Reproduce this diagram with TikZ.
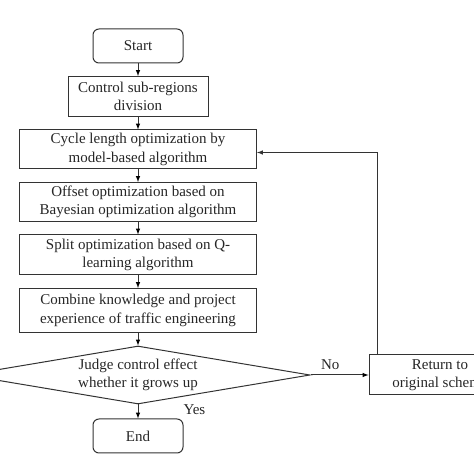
\documentclass[tikz,border=0pt]{standalone}
\usepackage{fontspec}
\setmainfont{Liberation Serif}
\usetikzlibrary{arrows,positioning,shapes.geometric}

\begin{document}
\begin{tikzpicture}
[x=1pt, y=1pt, node distance=12.5pt, >=latex, font=\fontsize{15}{18.5}\selectfont, text=black!85,
% STYLES
boxline/.style={draw=black!80, line width=1pt},
% The terminal style is used for start and end
terminal/.style={rectangle, rounded corners=6pt, boxline, minimum width=90pt, minimum height=34pt, align=center},
% Define styles for each type of step
process/.style={rectangle, boxline, minimum width=237pt, minimum height=40pt, align=center, inner sep=2pt},
decision/.style={diamond, boxline, aspect=5.9, inner sep=0pt, minimum width=344pt, minimum height=58pt, align=center},
tag/.style={inner sep=1pt}]

\path[use as bounding box, clip] (0,0) rectangle (474,474);

% Draw steps
\node [terminal] (start) at (138,428) {Start};
\node [process, minimum width=140pt, below=of start] (subregion) {Control sub-regions\\division};
\node [process, minimum height=39pt, below=of subregion] (cycle) {Cycle length optimization by\\model-based algorithm};
\node [process, minimum height=39pt, below=of cycle] (offset) {Offset optimization based on\\Bayesian optimization algorithm};
\node [process, below=of offset] (split) {Split optimization based on Q-\\learning algorithm};
\node [process, minimum height=44pt, below=of split] (combine) {Combine knowledge and project\\experience of traffic engineering};
\node [decision, below=of combine] (judge) {Judge control effect\\whether it grows up};
\node [terminal, below=14pt of judge] (end) {End};

\node [process, minimum width=142pt, right=58pt of judge] (return) {Return to\\original scheme};
\coordinate (loop) at ([xshift=9pt]return.north west);

%%%%%%%%%%%%%%%

\path[->, boxline]
(start) edge (subregion)
(subregion) edge (cycle)
(cycle) edge (offset)
(offset) edge (split)
(split) edge (combine)
(combine) edge (judge)
(judge) edge node[tag, above, pos=0.34, yshift=4pt] {No} (return)
(judge) edge node[tag, right=44pt, pos=0.36] {Yes} (end);

\draw[->, boxline] (loop) |- ([yshift=-3pt]cycle.east);

\end{tikzpicture}
\end{document}
